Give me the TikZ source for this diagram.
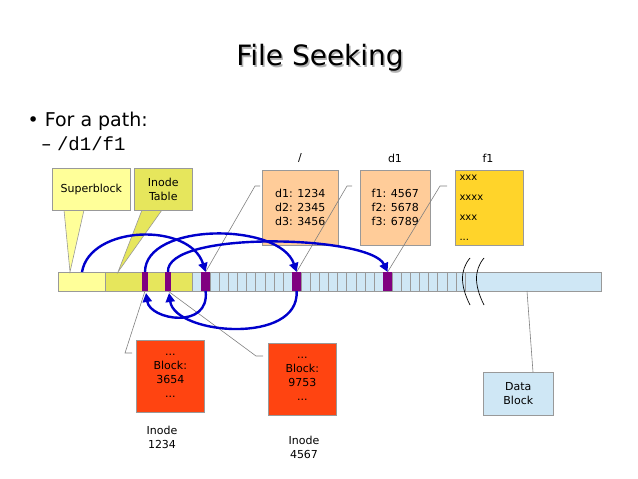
\documentclass[tikz,border=0pt]{standalone}
\usepackage{fontspec}
\setmainfont{DejaVu Sans}
\newfontfamily\monof{Liberation Mono}
\usetikzlibrary{arrows.meta}
\definecolor{sbY}{HTML}{FFFF99}
\definecolor{itY}{HTML}{E6E65C}
\definecolor{cellB}{HTML}{CFE7F5}
\definecolor{purp}{HTML}{800080}
\definecolor{peach}{HTML}{FFCC99}
\definecolor{gold}{HTML}{FFD42A}
\definecolor{redo}{HTML}{FF4411}
\definecolor{arr}{HTML}{0000CC}
\begin{document}
\begin{tikzpicture}[x=1pt,y=-1pt,
  box/.style={draw=gray!80,line width=0.6pt,inner sep=0pt,anchor=north west,align=center,font=\fontsize{11}{14}\selectfont},
  cell/.style={draw=gray!80,line width=0.5pt},
  blu/.style={draw=arr,line width=2.4pt,-{Triangle[length=9pt,width=9pt]}},
  call/.style={draw=gray,line width=0.6pt},
  lab/.style={font=\fontsize{11}{14}\selectfont}]
\useasboundingbox (0,0) rectangle (638,479);
\node[font=\fontsize{28}{32}\selectfont,text=gray!60] at (321.5,59.5) {File Seeking};
\node (title) [font=\fontsize{28}{32}\selectfont] at (320,58) {File Seeking};
\node (b1) [anchor=west,font=\fontsize{19}{22}\selectfont] at (24,121) {\textbullet\ For a path:};
\node (b2) [anchor=west,font=\fontsize{19}{22}\selectfont] at (38,144) {– {\monof /d1/f1}};
% bar
\fill[sbY] (58,272) rectangle (105,291);
\fill[itY] (105,272) rectangle (192,291);
\draw[cell] (58,272) rectangle (105,291);
\draw[cell] (105,272) rectangle (192,291);
\foreach \i in {0,...,29} {\draw[cell,fill=cellB] ({192+9.1*\i},272) rectangle ({201.1+9.1*\i},291);}
\draw[cell,fill=cellB] (465,272) rectangle (601,291);
\fill[purp] (142,272) rectangle (148,291);
\fill[purp] (165,272) rectangle (171,291);
\fill[purp] (201.1,272) rectangle (210.2,291);
\fill[purp] (292.1,272) rectangle (301.2,291);
\fill[purp] (383.1,272) rectangle (392.2,291);
\coordinate (p1) at (145,272); \coordinate (p2) at (168,272);
\coordinate (p3) at (205.6,272); \coordinate (p4) at (296.6,272); \coordinate (p5) at (387.6,272);
\coordinate (q1) at (145,291); \coordinate (q2) at (168,291);
\coordinate (q3) at (205.6,291); \coordinate (q4) at (296.6,291);
% breaks
\draw[line width=0.7pt] (470,258) .. controls (460,270) and (460,285) .. (470,305);
\draw[line width=0.7pt] (484,258) .. controls (474,270) and (474,285) .. (484,305);
% callouts top
\fill[sbY,draw=gray!80,line width=0.6pt] (64,210) -- (70,272) -- (84,210) -- cycle;
\node (sb) [box,fill=sbY,minimum width=78pt,minimum height=42pt] at (52,168) {Superblock};
\fill[itY,draw=gray!80,line width=0.6pt] (142,210) -- (118,272) -- (162,210) -- cycle;
\node (it) [box,fill=itY,minimum width=58pt,minimum height=42pt] at (134,168) {Inode\\Table};
\node (root) [box,fill=peach,minimum width=76pt,minimum height=75pt] at (262,170) {\fontsize{11}{21}\selectfont d1: 1234\\d2: 2345\\d3: 3456};
\node (d1) [box,fill=peach,minimum width=70pt,minimum height=75pt] at (360,170) {\fontsize{11}{21}\selectfont f1: 4567\\f2: 5678\\f3: 6789};
\node (f1) [box,fill=gold,minimum width=68pt,minimum height=75pt,align=left,text depth=0pt] at (455,170) {};
\node[anchor=north west,align=left,font=\fontsize{10}{20}\selectfont] at (456,171) {xxx\\xxxx\\xxx\\...};
\node (lr) [lab] at (300,158) {/};
\node (ld) [lab] at (395,158) {d1};
\node (lf) [lab] at (488,158) {f1};
\draw[call] (p3) -- (255,186) -- (260,186);
\draw[call] (p4) -- (347,186) -- (352,186);
\draw[call] (p5) -- (440,186) -- (447,186);
% lower boxes
\node (bk1) [box,fill=redo,minimum width=68pt,minimum height=72pt] at (136,340) {...\\Block:\\3654\\...};
\node (bk2) [box,fill=redo,minimum width=68pt,minimum height=72pt] at (268,343) {...\\Block:\\9753\\...};
\node (in1) [lab,align=center] at (162,437) {Inode\\1234};
\node (in2) [lab,align=center] at (304,447) {Inode\\4567};
\node (db) [box,fill=cellB,minimum width=70pt,minimum height=43pt] at (483,372) {Data\\Block};
\draw[call] (q1) -- (125,353) -- (132,353);
\draw[call] (q2) -- (256,356) -- (263,356);
\draw[call] (527,291) -- (533,372);
% arrows
\draw[blu] (82,272) .. controls (90,225) and (190,222) .. (p3);
\draw[blu] (p1) .. controls (145,222) and (280,222) .. (p4);
\draw[blu] (p2) .. controls (165,230) and (370,235) .. (p5);
\draw[blu] (q3) .. controls (210,330) and (150,320) .. (146,293);
\draw[blu] (q4) .. controls (300,345) and (175,335) .. (169,293);
\end{tikzpicture}
\end{document}
